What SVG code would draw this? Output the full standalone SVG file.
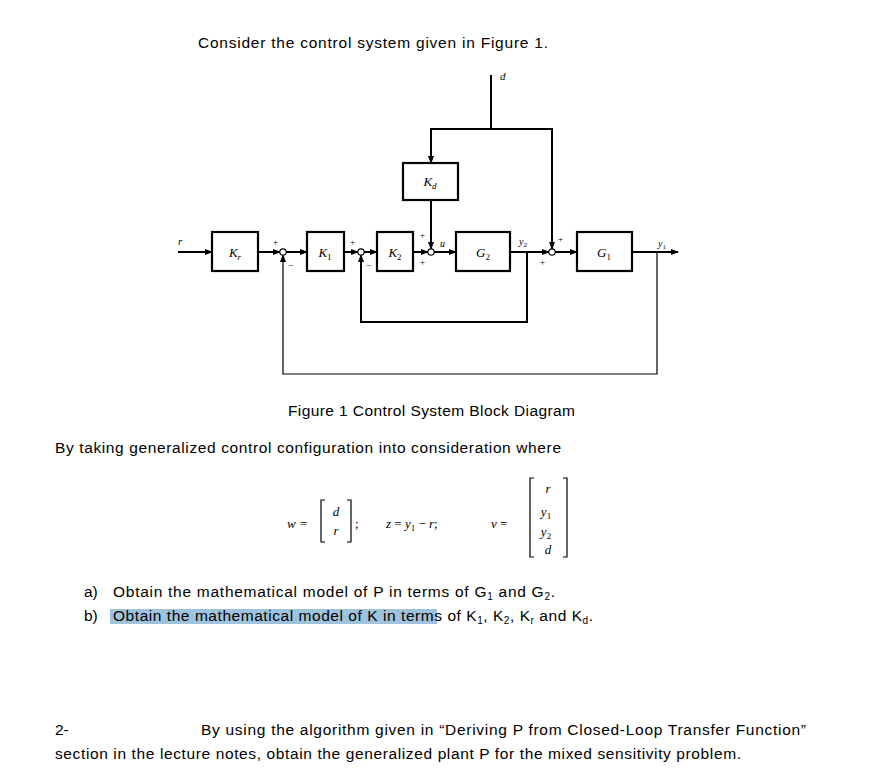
<svg xmlns="http://www.w3.org/2000/svg" width="869" height="783" viewBox="0 0 869 783">
<defs>
<marker id="ar" markerWidth="8" markerHeight="6" refX="7" refY="3" orient="auto" markerUnits="userSpaceOnUse"><path d="M0,0 L8,3 L0,6 z" fill="#000"/></marker>
<style>
.t{font-family:"Liberation Sans",Arial,sans-serif;font-size:15.5px;fill:#000}
.m{font-family:"Liberation Serif","Times New Roman",serif;font-style:italic;fill:#000}
.s{font-family:"Liberation Serif",serif;font-size:9px;fill:#000}
.b{fill:#fff;stroke:#000;stroke-width:2.2}
.c{fill:#fff;stroke:#000;stroke-width:1.2}
.w{fill:none;stroke:#000;stroke-width:2}
.n{fill:none;stroke:#000;stroke-width:1.2}
</style>
</defs>
<rect width="869" height="783" fill="#fff"/>
<text class="t" x="198" y="48" textLength="350">Consider the control system given in Figure 1.</text>
<g id="connectors">
<path class="w" d="M178,252 H212" marker-end="url(#ar)"/>
<path class="w" d="M258,252 H280" marker-end="url(#ar)"/>
<path class="w" d="M286,252 H307" marker-end="url(#ar)"/>
<path class="w" d="M344,252 H358" marker-end="url(#ar)"/>
<path class="w" d="M364,252 H377" marker-end="url(#ar)"/>
<path class="w" d="M413,252 H428" marker-end="url(#ar)"/>
<path class="w" d="M434,252 H456" marker-end="url(#ar)"/>
<path class="w" d="M510,252 H549" marker-end="url(#ar)"/>
<path class="w" d="M555,252 H577" marker-end="url(#ar)"/>
<path class="w" d="M632,252 H678" marker-end="url(#ar)"/>
<path class="w" d="M431,200 V249" marker-end="url(#ar)"/>
<path class="w" d="M491,75 V129"/>
<path class="w" d="M491,129 H431 V163" marker-end="url(#ar)"/>
<path class="w" d="M491,129 H552 V249" marker-end="url(#ar)"/>
<path class="w" d="M527,252 V322 H361 V255" marker-end="url(#ar)"/>
<path class="n" d="M657,252 V374 H283 V255" marker-end="url(#ar)"/>
</g>
<g id="Kr"><rect class="b" x="212" y="232" width="46" height="39"/><text class="m" x="235" y="257" font-size="13" text-anchor="middle">K<tspan font-size="9" dy="3">r</tspan></text></g>
<g id="K1"><rect class="b" x="307" y="232" width="37" height="39"/><text class="m" x="325" y="257" font-size="13" text-anchor="middle">K<tspan font-size="9" dy="3" font-style="normal">1</tspan></text></g>
<g id="K2"><rect class="b" x="377" y="232" width="36" height="39"/><text class="m" x="395" y="257" font-size="13" text-anchor="middle">K<tspan font-size="9" dy="3" font-style="normal">2</tspan></text></g>
<g id="Kd"><rect class="b" x="403" y="163" width="55" height="37"/><text class="m" x="430" y="186" font-size="13" text-anchor="middle">K<tspan font-size="9" dy="3">d</tspan></text></g>
<g id="G2"><rect class="b" x="456" y="232" width="54" height="39"/><text class="m" x="483" y="257" font-size="13" text-anchor="middle">G<tspan font-size="9" dy="3" font-style="normal">2</tspan></text></g>
<g id="G1"><rect class="b" x="577" y="232" width="55" height="39"/><text class="m" x="604" y="257" font-size="13" text-anchor="middle">G<tspan font-size="9" dy="3" font-style="normal">1</tspan></text></g>
<g id="sum1"><circle class="c" cx="283" cy="252" r="3.2"/><text class="s" x="273" y="245">+</text><text class="s" x="288" y="268">−</text></g>
<g id="sum2"><circle class="c" cx="361" cy="252" r="3.2"/><text class="s" x="350" y="245">+</text><text class="s" x="366" y="268">−</text></g>
<g id="sum3"><circle class="c" cx="431" cy="252" r="3.2"/><text class="s" x="420" y="238">+</text><text class="s" x="420" y="265">+</text></g>
<g id="sum4"><circle class="c" cx="552" cy="252" r="3.2"/><text class="s" x="558" y="242">+</text><text class="s" x="540" y="265">+</text></g>
<g id="labels">
<text class="m" x="178" y="245" font-size="11">r</text>
<text class="m" x="500" y="80" font-size="11">d</text>
<text class="m" x="440" y="247" font-size="10">u</text>
<text class="m" x="519" y="245" font-size="10">y<tspan font-size="7" dy="2" font-style="normal">2</tspan></text>
<text class="m" x="658" y="247" font-size="10">y<tspan font-size="7" dy="2" font-style="normal">1</tspan></text>
</g>
<text class="t" x="288" y="416" textLength="287">Figure 1 Control System Block Diagram</text>
<text class="t" x="55" y="453" textLength="506">By taking generalized control configuration into consideration where</text>
<g id="eq" class="m" font-size="13">
<text x="287" y="528" font-style="italic">w</text><text x="300" y="528" font-style="normal">=</text>
<path class="n" d="M325,500 H321 V542 H325 M347,500 H351 V542 H347"/>
<text x="336" y="516" text-anchor="middle">d</text><text x="336" y="535" text-anchor="middle">r</text>
<text x="355" y="528" font-style="normal">;</text>
<text x="386" y="528">z <tspan font-style="normal">=</tspan> y<tspan font-size="9" dy="3" font-style="normal">1</tspan><tspan dy="-3" font-style="normal"> − </tspan>r<tspan font-style="normal">;</tspan></text>
<text x="491" y="528">v <tspan font-style="normal">=</tspan></text>
<path class="n" d="M534,478 H530 V557 H534 M563,478 H567 V557 H563"/>
<text x="548" y="493" text-anchor="middle">r</text>
<text x="546" y="516" text-anchor="middle">y<tspan font-size="9" dy="3" font-style="normal">1</tspan></text>
<text x="546" y="536" text-anchor="middle">y<tspan font-size="9" dy="3" font-style="normal">2</tspan></text>
<text x="548" y="554" text-anchor="middle">d</text>
</g>
<rect x="110" y="609" width="327" height="15" fill="#9fc3dc"/>
<text class="t" x="84" y="597">a)</text>
<text class="t" x="113" y="597" textLength="442">Obtain the mathematical model of P in terms of G<tspan font-size="10" dy="3">1</tspan><tspan dy="-3"> and G</tspan><tspan font-size="10" dy="3">2</tspan><tspan dy="-3">.</tspan></text>
<text class="t" x="84" y="621">b)</text>
<text class="t" x="113" y="621" textLength="480">Obtain the mathematical model of K in terms of K<tspan font-size="10" dy="3">1</tspan><tspan dy="-3">, K</tspan><tspan font-size="10" dy="3">2</tspan><tspan dy="-3">, K</tspan><tspan font-size="10" dy="3">r</tspan><tspan dy="-3"> and K</tspan><tspan font-size="10" dy="3">d</tspan><tspan dy="-3">.</tspan></text>
<text class="t" x="55" y="735">2-</text>
<text class="t" x="201" y="735" textLength="605">By using the algorithm given in “Deriving P from Closed-Loop Transfer Function”</text>
<text class="t" x="55" y="759" textLength="686">section in the lecture notes, obtain the generalized plant P for the mixed sensitivity problem.</text>
</svg>
